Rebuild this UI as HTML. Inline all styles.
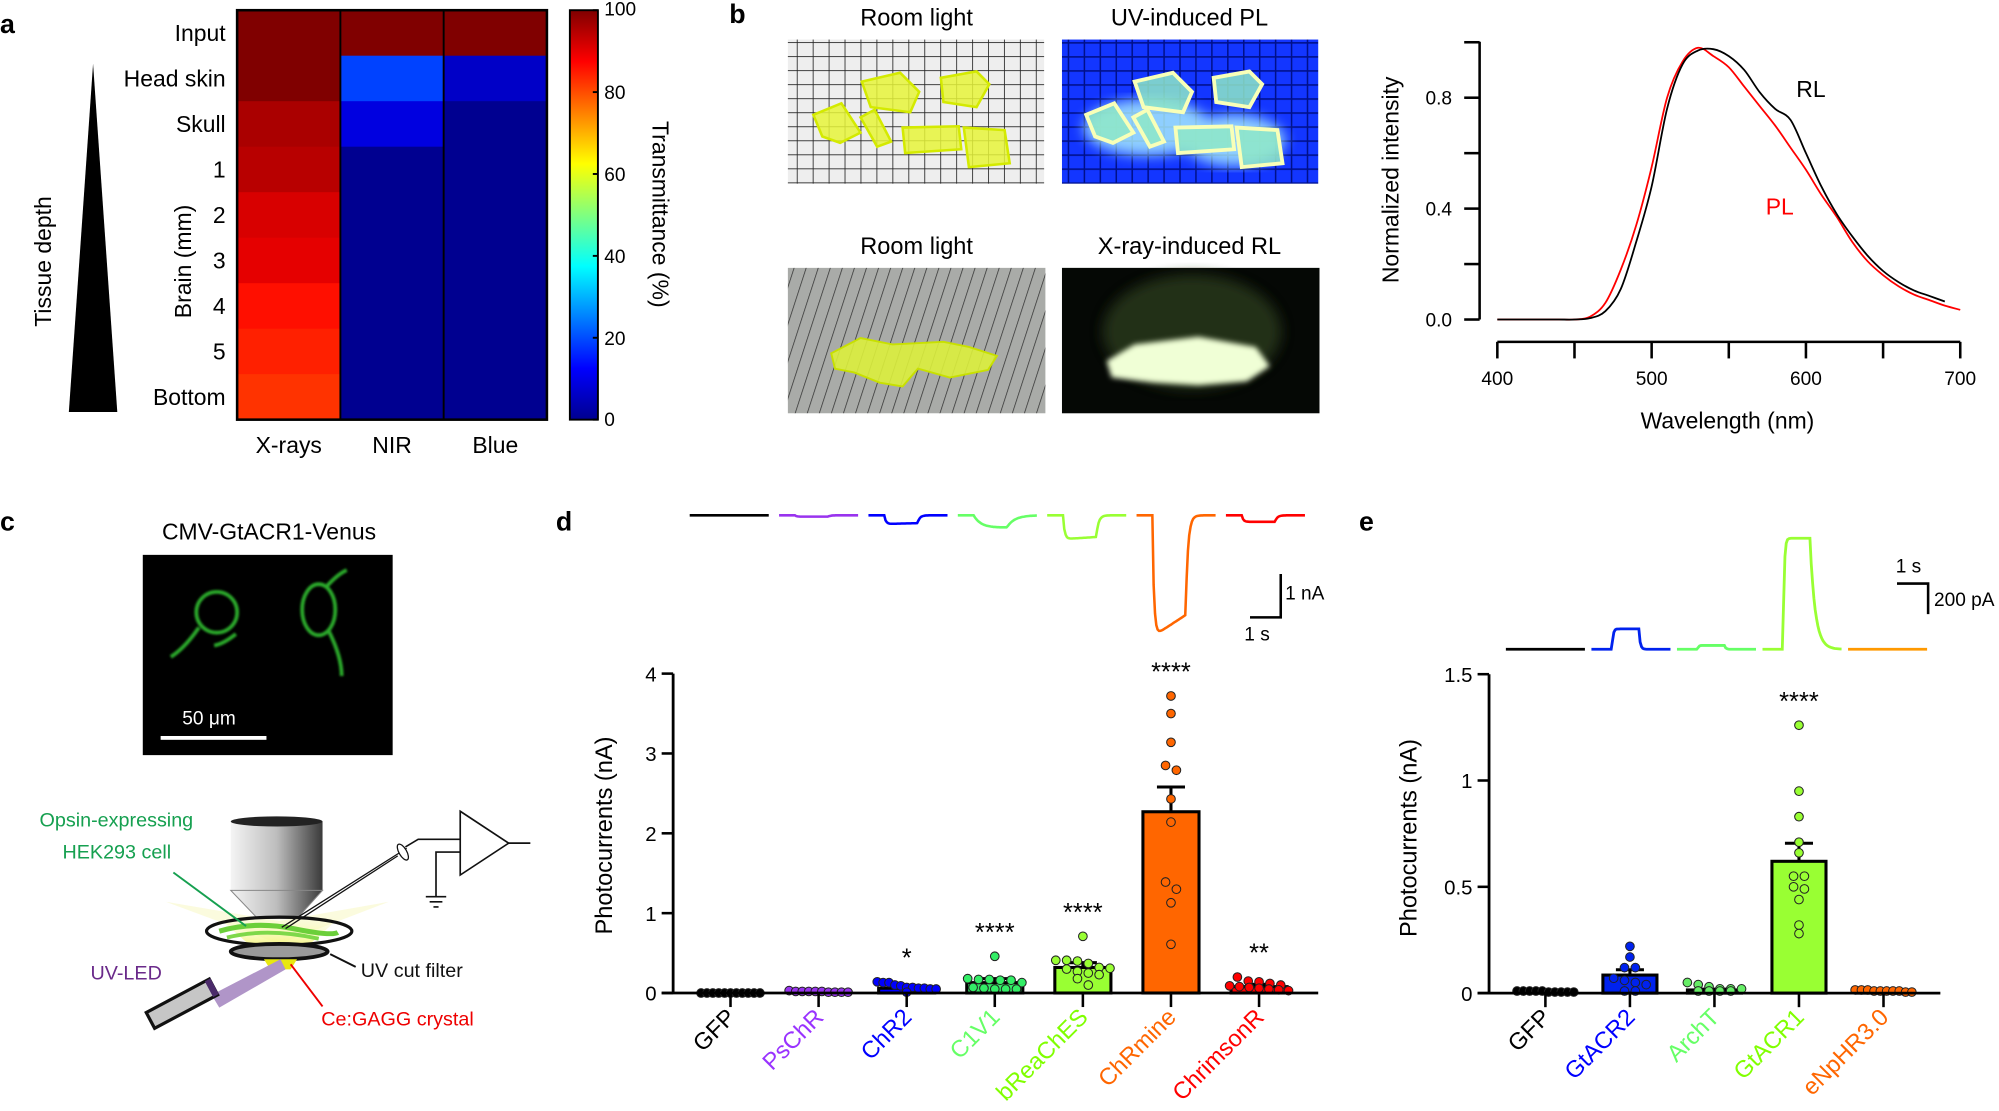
<!DOCTYPE html>
<html><head><meta charset="utf-8"><style>
html,body{margin:0;padding:0;background:#fff;}
svg{display:block;font-family:"Liberation Sans",Arial,sans-serif;}
</style></head><body>
<svg id="fig" width="1999" height="1111" viewBox="0 0 1568 871" preserveAspectRatio="none" xmlns="http://www.w3.org/2000/svg">
<defs>
<linearGradient id="jetGrad" x1="0" y1="1" x2="0" y2="0">
<stop offset="0" stop-color="#00008f"/><stop offset="0.125" stop-color="#0000ff"/><stop offset="0.375" stop-color="#00ffff"/><stop offset="0.625" stop-color="#ffff00"/><stop offset="0.875" stop-color="#ff0000"/><stop offset="1" stop-color="#800000"/>
</linearGradient>
<pattern id="gridW" width="12.5" height="11" patternUnits="userSpaceOnUse"><rect width="12.5" height="11" fill="#eeeeee"/><path d="M0 0H12.5M0 0V11" stroke="#222" stroke-width="1.3"/></pattern>
<pattern id="gridB" width="12.5" height="11" patternUnits="userSpaceOnUse"><rect width="12.5" height="11" fill="#1336ff"/><path d="M0 0H12.5M0 0V11" stroke="#00108a" stroke-width="2.4"/></pattern>
<pattern id="gridD" width="9" height="30" patternUnits="userSpaceOnUse" patternTransform="rotate(18)"><rect width="9" height="30" fill="#a9aba8"/><path d="M0 0V30" stroke="#333" stroke-width="1.2"/></pattern>
<filter id="blur2"><feGaussianBlur stdDeviation="2"/></filter>
<filter id="blur5"><feGaussianBlur stdDeviation="5"/></filter>
<filter id="blur1"><feGaussianBlur stdDeviation="0.8"/></filter>
<linearGradient id="objG" x1="0" x2="1"><stop offset="0" stop-color="#f4f4f4"/><stop offset="0.5" stop-color="#bdbdbd"/><stop offset="1" stop-color="#3a3a3a"/></linearGradient>
<linearGradient id="coneG" x1="0" y1="1" x2="0" y2="0"><stop offset="0" stop-color="#f2f23a"/><stop offset="1" stop-color="#fbfbe0" stop-opacity="0.2"/></linearGradient>
</defs>

<text x="0" y="26" font-size="21" font-weight="bold">a</text>
<text x="572" y="18" font-size="21" font-weight="bold">b</text>
<text x="0" y="416" font-size="21" font-weight="bold">c</text>
<text x="436" y="416" font-size="21" font-weight="bold">d</text>
<text x="1066" y="416" font-size="21" font-weight="bold">e</text>

<g id="heat"></g>
<g id="spec"></g>

<g>
<text x="719" y="20" font-size="18.5" text-anchor="middle">Room light</text>
<rect x="618" y="31" width="201" height="113" fill="url(#gridW)"/>
<g fill="#e6f43a" fill-opacity="0.85" stroke="#d4ea00" stroke-width="2">
<polygon points="676,64 706,57 721,72 714,88 683,84"/><polygon points="738,61 766,56 776,66 766,84 740,80"/>
<polygon points="638,90 660,81 675,104 659,112 645,107"/><polygon points="675,92 686,86 699,111 688,115"/>
<polygon points="708,100 752,99 754,117 710,120"/><polygon points="756,100 788,102 792,128 760,131"/>
</g></g>
<g>
<text x="933" y="20" font-size="18.5" text-anchor="middle">UV-induced PL</text>
<rect x="833" y="31" width="201" height="113" fill="url(#gridB)"/>
<g filter="url(#blur5)" fill="#aef6ff" opacity="0.8"><ellipse cx="900" cy="100" rx="50" ry="22"/><ellipse cx="968" cy="110" rx="40" ry="20"/></g>
<g fill="#8ee8c8" fill-opacity="0.85" stroke="#f8ffb8" stroke-width="3">
<polygon points="890,64 920,57 935,72 928,88 897,84"/><polygon points="952,61 980,56 990,66 980,84 954,80"/>
<polygon points="852,90 874,81 889,104 873,112 859,107"/><polygon points="889,92 900,86 913,111 902,115"/>
<polygon points="922,100 966,99 968,117 924,120"/><polygon points="970,100 1002,102 1006,128 974,131"/>
</g></g>
<g>
<text x="719" y="199" font-size="18.5" text-anchor="middle">Room light</text>
<rect x="618" y="210" width="202" height="114" fill="url(#gridD)"/>
<g fill="#dcef3c" fill-opacity="0.9" stroke="#c8e000" stroke-width="1.5">
<polygon points="652,277 675,265 700,270 740,268 760,272 782,279 775,290 745,296 720,289 708,303 690,300 670,292 655,289"/>
</g></g>
<g>
<text x="933" y="199" font-size="18.5" text-anchor="middle">X-ray-induced RL</text>
<rect x="833" y="210" width="202" height="114" fill="#050805"/>
<ellipse cx="935" cy="260" rx="70" ry="45" fill="#2b3a1c" filter="url(#blur5)" opacity="0.8"/>
<polygon points="868,283 890,270 940,264 985,272 996,287 978,299 940,302 905,300 872,296" fill="#f0ffd6" filter="url(#blur2)"/>
</g>

<g>
<text x="211" y="423" font-size="18" text-anchor="middle">CMV-GtACR1-Venus</text>
<rect x="112" y="435" width="196" height="157" fill="#000"/>
<g fill="none" stroke="#2aa82a" stroke-width="3" filter="url(#blur1)">
<ellipse cx="170" cy="480" rx="16" ry="16"/><path d="M156 492 Q145 508 134 515"/><path d="M185 497 Q175 505 168 506"/>
<ellipse cx="250" cy="478" rx="13" ry="20"/><path d="M256 460 Q265 450 272 447"/><path d="M258 495 Q268 515 268 530"/>
</g>
<text x="143" y="568" font-size="15" fill="#fff">50 μm</text>
<rect x="126" y="577" width="83" height="3" fill="#fff"/>
</g>
<g>
<polygon points="130,707 219,722 305,707 219,740" fill="#fafad0" opacity="0.7"/>
<polygon points="170,718 268,718 232,750 206,750" fill="url(#coneG)"/>
<rect x="181" y="644" width="72" height="54" fill="url(#objG)"/>
<ellipse cx="217" cy="644" rx="36" ry="4" fill="#222"/>
<polygon points="181,698 253,698 233,720 202,720" fill="url(#objG)" stroke="#888" stroke-width="0.8"/>
<ellipse cx="219" cy="730" rx="57" ry="11" fill="none" stroke="#111" stroke-width="2.5"/>
<path d="M172 730 Q200 722 230 728 T265 731" stroke="#6bcf3a" stroke-width="4" fill="none"/>
<path d="M178 735 Q210 727 250 736" stroke="#7ed84a" stroke-width="3" fill="none"/>
<ellipse cx="219" cy="746" rx="38" ry="6" fill="#9a9a9a" stroke="#111" stroke-width="3"/>
<polygon points="207,752 233,752 228,760 212,760" fill="#e8e810"/>
<polygon points="166,780 220,752 224,760 172,790" fill="#b095c8"/>
<g transform="translate(118,800) rotate(-28)"><rect x="0" y="-7" width="56" height="14" fill="#c6c6c6" stroke="#111" stroke-width="2.5"/><rect x="52" y="-7" width="5" height="14" fill="#4b2a6a"/></g>
<line x1="221" y1="727" x2="319" y2="665" stroke="#111" stroke-width="1"/>
<line x1="224" y1="728" x2="312" y2="671" stroke="#111" stroke-width="1"/>
<ellipse cx="316" cy="668" rx="3" ry="7" transform="rotate(-30 316 668)" fill="#fff" stroke="#111" stroke-width="1"/>
<polyline points="318,664 328,658 361,658" fill="none" stroke="#111" stroke-width="1.2"/>
<polygon points="361,636 399,661 361,686" fill="#fff" stroke="#111" stroke-width="1.3"/>
<line x1="399" y1="661" x2="416" y2="661" stroke="#111" stroke-width="1.3"/>
<polyline points="361,668 342,668 342,703" fill="none" stroke="#111" stroke-width="1.3"/>
<path d="M334 703H350M337 707H347M340 711H344" stroke="#111" stroke-width="1.3"/>
<line x1="136" y1="684" x2="193" y2="726" stroke="#16a050" stroke-width="1.5"/>
<line x1="259" y1="748" x2="279" y2="758" stroke="#111" stroke-width="1.5"/>
<line x1="228" y1="756" x2="253" y2="789" stroke="#e00" stroke-width="1.5"/>
<text x="31" y="648" font-size="15.5" fill="#16a050">Opsin-expressing</text>
<text x="49" y="673" font-size="15.5" fill="#16a050">HEK293 cell</text>
<text x="71" y="768" font-size="15.5" fill="#6a2a8a">UV-LED</text>
<text x="283" y="766" font-size="15.5" fill="#111">UV cut filter</text>
<text x="252" y="804" font-size="15.5" fill="#e00">Ce:GAGG crystal</text>
</g>

<g id="pd"></g>
<g id="pe"></g>
</svg>
<script>
const heatRows = ["Input","Head skin","Skull","1","2","3","4","5","Bottom"];
const heatCols = ["X-rays","NIR","Blue"];
const xrayT = [100,100,95.8,94.5,91.3,90,86,84.4,82.5];
const nirT  = [100,19,9.5,1.6,1.6,1.6,1.6,1.6,1.6];
const blueT = [100,7,1.6,1.6,1.6,1.6,1.6,1.6,1.6];
const cbarTicks = [0,20,40,60,80,100];

const wl = [400,410,420,430,440,450,460,470,480,490,500,510,520,530,540,550,560,570,580,590,600,610,620,630,640,650,660,670,680,690,700];
const rlVals = [0,0,0,0,0,0,0.005,0.03,0.11,0.28,0.48,0.76,0.92,0.97,0.975,0.95,0.9,0.82,0.76,0.72,0.6,0.48,0.38,0.3,0.23,0.175,0.135,0.105,0.085,0.065,null];
const plVals = [0,0,0,0,0,0,0.01,0.06,0.18,0.34,0.55,0.8,0.93,0.98,0.95,0.91,0.84,0.77,0.7,0.62,0.54,0.45,0.37,0.28,0.21,0.16,0.12,0.09,0.07,0.05,0.035];
const specYTicks = [0,0.4,0.8];
const specXTicks = [400,500,600,700];

const dCats = ["GFP","PsChR","ChR2","C1V1","bReaChES","ChRmine","ChrimsonR"];
const dColors = ["#000000","#9933ee","#0000ff","#33ee66","#99ff33","#ff6600","#ff0000"];
const dLabelColors = ["#000000","#9933ff","#0000ff","#66ff66","#80ff00","#ff6600","#ff0000"];
const dMeans = [0,0.01,0.06,0.13,0.32,2.27,0.08];
const dSem = [0,0.003,0.02,0.05,0.06,0.31,0.03];
const dPoints = [
 [0,0,0,0,0,0,0,0,0,0,0],
 [0.02,0.03,0.02,0.01,0.02,0.01,0.02,0.01,0.02,0.01],
 [0.14,0.13,0.13,0.1,0.09,0.07,0.07,0.06,0.06,0.05,0.05,0.01],
 [0.46,0.17,0.18,0.17,0.16,0.16,0.13,0.07,0.06,0.05,0.05,0.05],
 [0.71,0.41,0.4,0.37,0.41,0.32,0.3,0.31,0.25,0.27,0.23,0.18,0.1],
 [3.72,3.5,3.14,2.79,2.85,2.43,2.14,1.39,1.3,1.13,0.61],
 [0.2,0.15,0.14,0.12,0.1,0.09,0.08,0.07,0.06,0.05,0.04,0.03]
];
const dStars = ["","","*","****","****","****","**"];
const dYTicks = [0,1,2,3,4];
const dTracePeak = [0,0.03,0.2,0.3,0.55,2.8,0.15];
const dTraceEnd = [0,0.03,0.18,0.28,0.5,2.3,0.15];

const eCats = ["GFP","GtACR2","ArchT","GtACR1","eNpHR3.0"];
const eColors = ["#000000","#0022ee","#66ee66","#99ff33","#ff6600"];
const eLabelColors = ["#000000","#0000ff","#66ff66","#80ff00","#ff6600"];
const eMeans = [0.005,0.085,0.015,0.62,0.01];
const eSem = [0.002,0.025,0.004,0.085,0.002];
const ePoints = [
 [0.01,0.01,0.01,0.01,0.01,0.005,0.005,0.005,0.005,0.005],
 [0.22,0.17,0.12,0.12,0.07,0.06,0.05,0.04,0.01,0.01],
 [0.05,0.04,0.03,0.02,0.02,0.01,0.01,0.01,0.01,0.02],
 [1.26,0.95,0.83,0.71,0.66,0.55,0.55,0.5,0.49,0.44,0.32,0.28],
 [0.015,0.015,0.015,0.01,0.01,0.01,0.01,0.005,0.005,0.01]
];
const eStars = ["","","","****",""];
const eYTicks = [0,0.5,1,1.5];
const eYTickLabels = ["0","0.5","1","1.5"];
const eTracePeak = [0,133,25,725,0];

const NS="http://www.w3.org/2000/svg";
function mk(parent, tag, attrs, txt){const e=document.createElementNS(NS,tag);for(const k in attrs)e.setAttribute(k,attrs[k]);if(txt!==undefined)e.textContent=txt;parent.appendChild(e);return e;}
function jet(v){v=Math.max(0,Math.min(1,v));
 const c=(x)=>Math.max(0,Math.min(1,x));
 let r,g,b;
 r=c(Math.min(4*v-1.5,-4*v+4.5));g=c(Math.min(4*v-0.5,-4*v+3.5));b=c(Math.min(4*v+0.5,-4*v+2.5));
 return "rgb("+Math.round(r*255)+","+Math.round(g*255)+","+Math.round(b*255)+")";}

(function(){
 const g=document.getElementById('heat');
 const x0=186,x1=429,y0=8,y1=329, colEdges=[186,267,348,429];
 const rh=(y1-y0)/heatRows.length;
 const cols=[xrayT,nirT,blueT];
 cols.forEach((arr,ci)=>{arr.forEach((v,ri)=>{
  const r=mk(g,'rect',{x:colEdges[ci],y:y0+ri*rh,width:colEdges[ci+1]-colEdges[ci]+0.5,height:rh+0.5,fill:jet(v/100)});
  
  
 });
 const t=mk(g,'text',{x:(colEdges[ci]+colEdges[ci+1])/2,y:355,'font-size':18,'text-anchor':'middle'},heatCols[ci]);
 
 
 });
 mk(g,'rect',{x:x0,y:y0,width:x1-x0,height:y1-y0,fill:'none',stroke:'#000','stroke-width':2});
 mk(g,'line',{x1:267,y1:y0,x2:267,y2:y1,stroke:'#000','stroke-width':1.5});
 mk(g,'line',{x1:348,y1:y0,x2:348,y2:y1,stroke:'#000','stroke-width':1.5});
 heatRows.forEach((lab,ri)=>{const t=mk(g,'text',{x:177,y:y0+(ri+0.5)*rh+6.5,'font-size':18,'text-anchor':'end'},lab);
  
  });
 const bt=mk(g,'text',{transform:'translate(150,205) rotate(-90)','font-size':18,'text-anchor':'middle'},'Brain (mm)');
 
 
 const td=mk(g,'text',{transform:'translate(40,205) rotate(-90)','font-size':18,'text-anchor':'middle'},'Tissue depth');
 
 
 const tri=mk(g,'polygon',{points:'73,50 92,323 54,323',fill:'#000'});
 
 
 const cb=mk(g,'rect',{x:447,y:y0,width:22,height:y1-y0,fill:'url(#jetGrad)',stroke:'#000','stroke-width':1.5});
 
 
 cbarTicks.forEach(v=>{const y=y1-(v/100)*(y1-y0);
  mk(g,'line',{x1:465,x2:469,y1:y,y2:y,stroke:'#000','stroke-width':1.5});
  const t=mk(g,'text',{x:474,y:y+(v==100?4:v==0?5:5.5),'font-size':15},String(v));
  
  });
 const ct=mk(g,'text',{transform:'translate(512,168) rotate(90)','font-size':18,'text-anchor':'middle'},'Transmittance (%)');
 
 
})();

(function(){
 const g=document.getElementById('spec');
 const X=w=>1174.5+(w-400)*(1537.6-1174.5)/300;
 const Y=v=>250.5-v*(250.5-76.6)/0.8;
 mk(g,'line',{x1:1160.6,x2:1160.6,y1:32.7,y2:250.5,stroke:'#000','stroke-width':2});
 [0,0.2,0.4,0.6,0.8,1.0].forEach(v=>mk(g,'line',{x1:1148.5,x2:1160.6,y1:Y(v),y2:Y(v),stroke:'#000','stroke-width':2}));
 specYTicks.forEach(v=>{const t=mk(g,'text',{x:1139,y:Y(v)+5.5,'font-size':15,'text-anchor':'end'},v.toFixed(1));
  
  });
 mk(g,'line',{x1:1174.5,x2:1537.6,y1:268,y2:268,stroke:'#000','stroke-width':2});
 for(let w=400;w<=700;w+=50)mk(g,'line',{x1:X(w),x2:X(w),y1:268,y2:281,stroke:'#000','stroke-width':2});
 specXTicks.forEach(w=>{const t=mk(g,'text',{x:X(w),y:302,'font-size':15,'text-anchor':'middle'},String(w));
  
  });
 const xt=mk(g,'text',{x:1355,y:336,'font-size':18,'text-anchor':'middle'},'Wavelength (nm)');
 
 
 const yt=mk(g,'text',{transform:'translate(1097,141) rotate(-90)','font-size':18,'text-anchor':'middle'},'Normalized intensity');
 
 
 function path(vals){const p=[];wl.forEach((w,i)=>{if(vals[i]!==null)p.push([X(w),Y(vals[i])]);});
  let d='M'+p[0][0]+' '+p[0][1];
  for(let i=0;i<p.length-1;i++){const p0=p[Math.max(0,i-1)],p1=p[i],p2=p[i+1],p3=p[Math.min(p.length-1,i+2)];
   d+=' C'+(p1[0]+(p2[0]-p0[0])/6)+' '+(p1[1]+(p2[1]-p0[1])/6)+' '+(p2[0]-(p3[0]-p1[0])/6)+' '+(p2[1]-(p3[1]-p1[1])/6)+' '+p2[0]+' '+p2[1];}
  return d;}
 const pl=mk(g,'path',{d:path(plVals),fill:'none',stroke:'#ff0000','stroke-width':1.4});
 
 
 const rl=mk(g,'path',{d:path(rlVals),fill:'none',stroke:'#000','stroke-width':1.4});
 
 
 const a=mk(g,'text',{x:1409,y:76,'font-size':18},'RL');
 
 
 const b=mk(g,'text',{x:1385,y:168,'font-size':18,fill:'#ff0000'},'PL');
 
 
})();

function barChart(g,cfg){
 const Y=v=>cfg.y0-v*cfg.ppu;
 cfg.cats.forEach((c,i)=>{const cx=cfg.cx0+i*cfg.dx;
  if(cfg.means[i]>0.0001 && i>0){
   const r=mk(g,'rect',{x:cx-cfg.bw/2,y:Y(cfg.means[i]),width:cfg.bw,height:cfg.y0-Y(cfg.means[i]),fill:cfg.colors[i],stroke:'#000','stroke-width':2.4});
   
   
   const top=Y(cfg.means[i]+cfg.sem[i]);
   mk(g,'line',{x1:cx,x2:cx,y1:Y(cfg.means[i]),y2:top,stroke:'#000','stroke-width':2.4});
   const eb=mk(g,'line',{x1:cx-11,x2:cx+11,y1:top,y2:top,stroke:'#000','stroke-width':2.4});
   
   
  }
  const pts=cfg.points[i].slice().sort((a,b)=>b-a);
  const rows=[];pts.forEach(v=>{const y=Y(v);const last=rows[rows.length-1];if(last&&Math.abs(last.y-y)<6.5)last.n.push(v);else rows.push({y:y,n:[v]});});
  rows.forEach(row=>{const n=row.n.length;const sp=Math.min(8.5,(cfg.bw*1.05)/Math.max(1,n-1));
   row.n.forEach((v,k)=>{const px=cx+(k-(n-1)/2)*sp;
    const ci=mk(g,'circle',{cx:px,cy:Y(v),r:3.4,fill:cfg.colors[i],stroke:'#222','stroke-width':0.8});
    
    });});
  if(cfg.stars[i]){const mx=Math.max(...cfg.points[i]);
   const s=mk(g,'text',{x:cx,y:Y(mx)-12,'font-size':20,'text-anchor':'middle'},cfg.stars[i]);
   
   }
  mk(g,'line',{x1:cx,x2:cx,y1:cfg.y0,y2:cfg.y0+11,stroke:'#000','stroke-width':2});
  const t=mk(g,'text',{transform:'translate('+(cx+5)+','+(cfg.y0+20)+') rotate(-45)','font-size':18.5,'text-anchor':'end',fill:cfg.labelColors[i]},c);
  
  
 });
 mk(g,'line',{x1:cfg.ax-9,x2:cfg.xEnd,y1:cfg.y0,y2:cfg.y0,stroke:'#000','stroke-width':2.2});
 mk(g,'line',{x1:cfg.ax,x2:cfg.ax,y1:Y(cfg.yMax),y2:cfg.y0,stroke:'#000','stroke-width':2.2});
 cfg.yTicks.forEach((v,k)=>{mk(g,'line',{x1:cfg.ax-9,x2:cfg.ax,y1:Y(v),y2:Y(v),stroke:'#000','stroke-width':2});
  const t=mk(g,'text',{x:cfg.ax-13,y:Y(v)+6,'font-size':16,'text-anchor':'end'},cfg.yLabels[k]);
  
  });
 const yt=mk(g,'text',{transform:'translate('+cfg.titleX+','+cfg.titleY+') rotate(-90)','font-size':18.5,'text-anchor':'middle'},'Photocurrents (nA)');
 
 
}

(function(){
 const g=document.getElementById('pd');
 barChart(g,{cats:dCats,colors:dColors,labelColors:dLabelColors,means:dMeans,sem:dSem,points:dPoints,stars:dStars,
  y0:778.5,ppu:62.6,cx0:573,dx:69.1,bw:44,ax:528,xEnd:1034,yMax:4,yTicks:dYTicks,yLabels:dYTicks.map(String),titleX:480,titleY:655});
 const base=404, pxPerNA=34;
 dCats.forEach((c,i)=>{const x0=541+i*70.1,w=62;
  const on=x0+0.2*w, off=x0+0.62*w;const slow=(i==3)?6:1.2;
  const pts=[];
  for(let k=0;k<=60;k++){const x=x0+k*w/60;let a=0;
   if(x>=on&&x<=off){const f=(x-on)/(off-on);const rise=1-Math.exp(-(x-on)/slow);a=rise*(dTracePeak[i]+(dTraceEnd[i]-dTracePeak[i])*f);}
   else if(x>off){a=dTraceEnd[i]*Math.exp(-(x-off)/(i==3?6:1.8));}
   pts.push(x.toFixed(1)+','+(base+a*pxPerNA).toFixed(1));}
  const p=mk(g,'polyline',{points:pts.join(' '),fill:'none',stroke:dColors[i]=='#33ee66'?'#66ff66':dColors[i],'stroke-width':2});
  
  
 });
 mk(g,'polyline',{points:'980.5,484 1004.6,484 1004.6,450',fill:'none',stroke:'#000','stroke-width':2});
 const t1=mk(g,'text',{x:1008,y:470,'font-size':15},'1 nA');
 
 
 const t2=mk(g,'text',{x:986,y:502,'font-size':15,'text-anchor':'middle'},'1 s');
 
 
})();

(function(){
 const g=document.getElementById('pe');
 barChart(g,{cats:eCats,colors:eColors,labelColors:eLabelColors,means:eMeans,sem:eSem,points:ePoints,stars:eStars,
  y0:778.6,ppu:166.7,cx0:1212.2,dx:66.3,bw:42.4,ax:1168,xEnd:1522,yMax:1.5,yTicks:eYTicks,yLabels:eYTickLabels,titleX:1111,titleY:657});
 const base=509, pxPerPA=24/200;
 eCats.forEach((c,i)=>{const x0=1181.2+i*67.1,w=62;
  const on=x0+0.26*w, off=x0+0.6*w;const slowOff=(i==3)?4:1;
  const pts=[];
  for(let k=0;k<=60;k++){const x=x0+k*w/60;let a=0;
   if(x>=on&&x<=off){a=eTracePeak[i]*(1-Math.exp(-(x-on)/0.8));}
   else if(x>off){a=eTracePeak[i]*Math.exp(-(x-off)/slowOff);}
   pts.push(x.toFixed(1)+','+(base-a*pxPerPA).toFixed(1));}
  const col=i==4?'#ff9900':(i==2?'#66ff66':eColors[i]);
  const p=mk(g,'polyline',{points:pts.join(' '),fill:'none',stroke:col,'stroke-width':2.2});
  
  
 });
 mk(g,'polyline',{points:'1488,457.5 1512.4,457.5 1512.4,481.5',fill:'none',stroke:'#000','stroke-width':2});
 const t1=mk(g,'text',{x:1497,y:449,'font-size':15,'text-anchor':'middle'},'1 s');
 
 
 const t2=mk(g,'text',{x:1517,y:475,'font-size':15},'200 pA');
 
 
})();
</script>
</body></html>
